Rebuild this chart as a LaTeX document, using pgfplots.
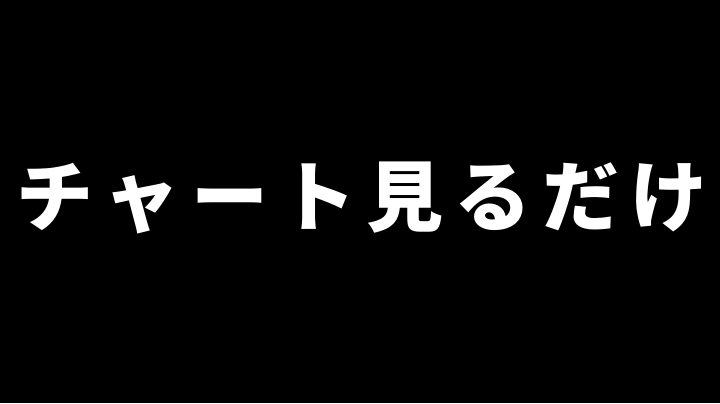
\documentclass[border=0pt]{standalone}
\usepackage{fontspec}
\usepackage{pgfplots}
\pgfplotsset{compat=1.18}
\newfontfamily\cjk[LetterSpace=14]{Noto Sans CJK JP Black}
\begin{document}
\begin{tikzpicture}
\begin{axis}[
  width=720bp, height=403bp, scale only axis,
  xmin=0, xmax=720, ymin=0, ymax=403,
  axis lines=none,
  axis background/.style={fill=black},
  clip=false,
]
\node[text=white, font=\cjk\fontsize{77bp}{82bp}\selectfont, inner sep=0pt]
  at (axis cs:362,205) {チャート見るだけ};
\end{axis}
\end{tikzpicture}
\end{document}
